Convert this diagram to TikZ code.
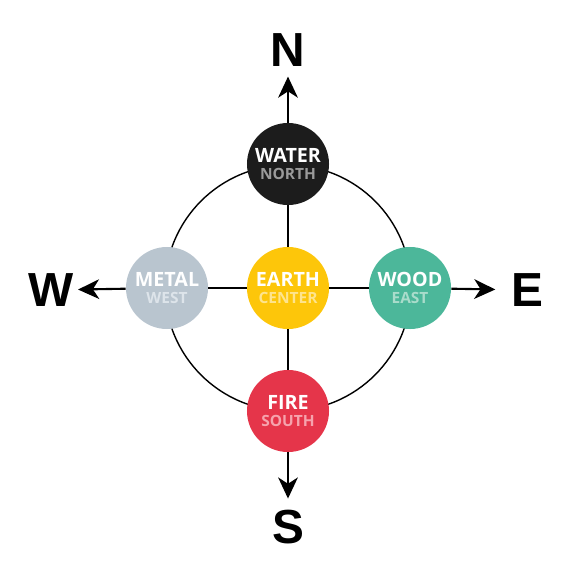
\documentclass[tikz,border=0pt]{standalone}
\usepackage{fontspec}
\setmainfont{Open Sans}
\newfontfamily\compassfont{Liberation Sans}
\usetikzlibrary{arrows.meta, positioning}
\definecolor{WaterBlack}{HTML}{1c1c1c}
\definecolor{WaterText}{HTML}{9a9a9a}
\definecolor{MetalGray}{HTML}{b9c5cf}
\definecolor{MetalText}{HTML}{dde4ea}
\definecolor{EarthYellow}{HTML}{fdc60a}
\definecolor{EarthText}{HTML}{fee48e}
\definecolor{WoodGreen}{HTML}{4cb79a}
\definecolor{WoodText}{HTML}{a9dccb}
\definecolor{FireRed}{HTML}{e5354a}
\definecolor{FireText}{HTML}{f6a3ad}
\tikzset{
  element/.style={circle, minimum size=2.05cm, inner sep=0pt, align=center,
    font=\fontsize{14}{14}\selectfont\bfseries, text=white},
  compass/.style={inner sep=0pt, font=\compassfont\fontsize{34}{34}\selectfont\bfseries},
  link/.style={line width=2pt},
  ring/.style={line width=1pt},
  arr/.style={line width=1.5pt, -{Stealth[length=15pt, width=14pt, inset=4.5pt]}}
}
\newcommand{\dir}[2]{\\[-2.5pt]{\fontsize{11}{12}\selectfont\textcolor{#1}{#2}}}
\begin{document}
\begin{tikzpicture}[x=0.025cm, y=-0.025cm]
  \useasboundingbox (0,0) rectangle (576,576);
  % Ring behind the elements
  \draw[ring] (288,288) circle (123);
  % Elements
  \node[element, fill=EarthYellow] (earth) at (288,288) {EARTH\dir{EarthText}{CENTER}};
  \node[element, fill=WaterBlack] (water) at (288,164) {WATER\dir{WaterText}{NORTH}};
  \node[element, fill=FireRed] (fire) at (288,411) {FIRE\dir{FireText}{SOUTH}};
  \node[element, fill=MetalGray] (metal) at (167,288) {METAL\dir{MetalText}{WEST}};
  \node[element, fill=WoodGreen] (wood) at (410,288) {WOOD\dir{WoodText}{EAST}};
  % Links to the center
  \foreach \el in {water, fire, metal, wood}
    \draw[link] (earth) -- (\el);
  % Compass letters
  \node[compass] (n) at (288,50) {N};
  \node[compass] (s) at (288,527) {S};
  \node[compass] (w) at (51,290) {W};
  \node[compass] (e) at (527,290) {E};
  % Arrows
  \draw[arr, shorten >=7pt] (water) -- (n);
  \draw[arr, shorten >=8pt] (fire) -- (s);
  \draw[arr, shorten >=3pt] (metal) -- (w);
  \draw[arr, shorten >=11pt] (wood) -- (e);
\end{tikzpicture}
\end{document}
